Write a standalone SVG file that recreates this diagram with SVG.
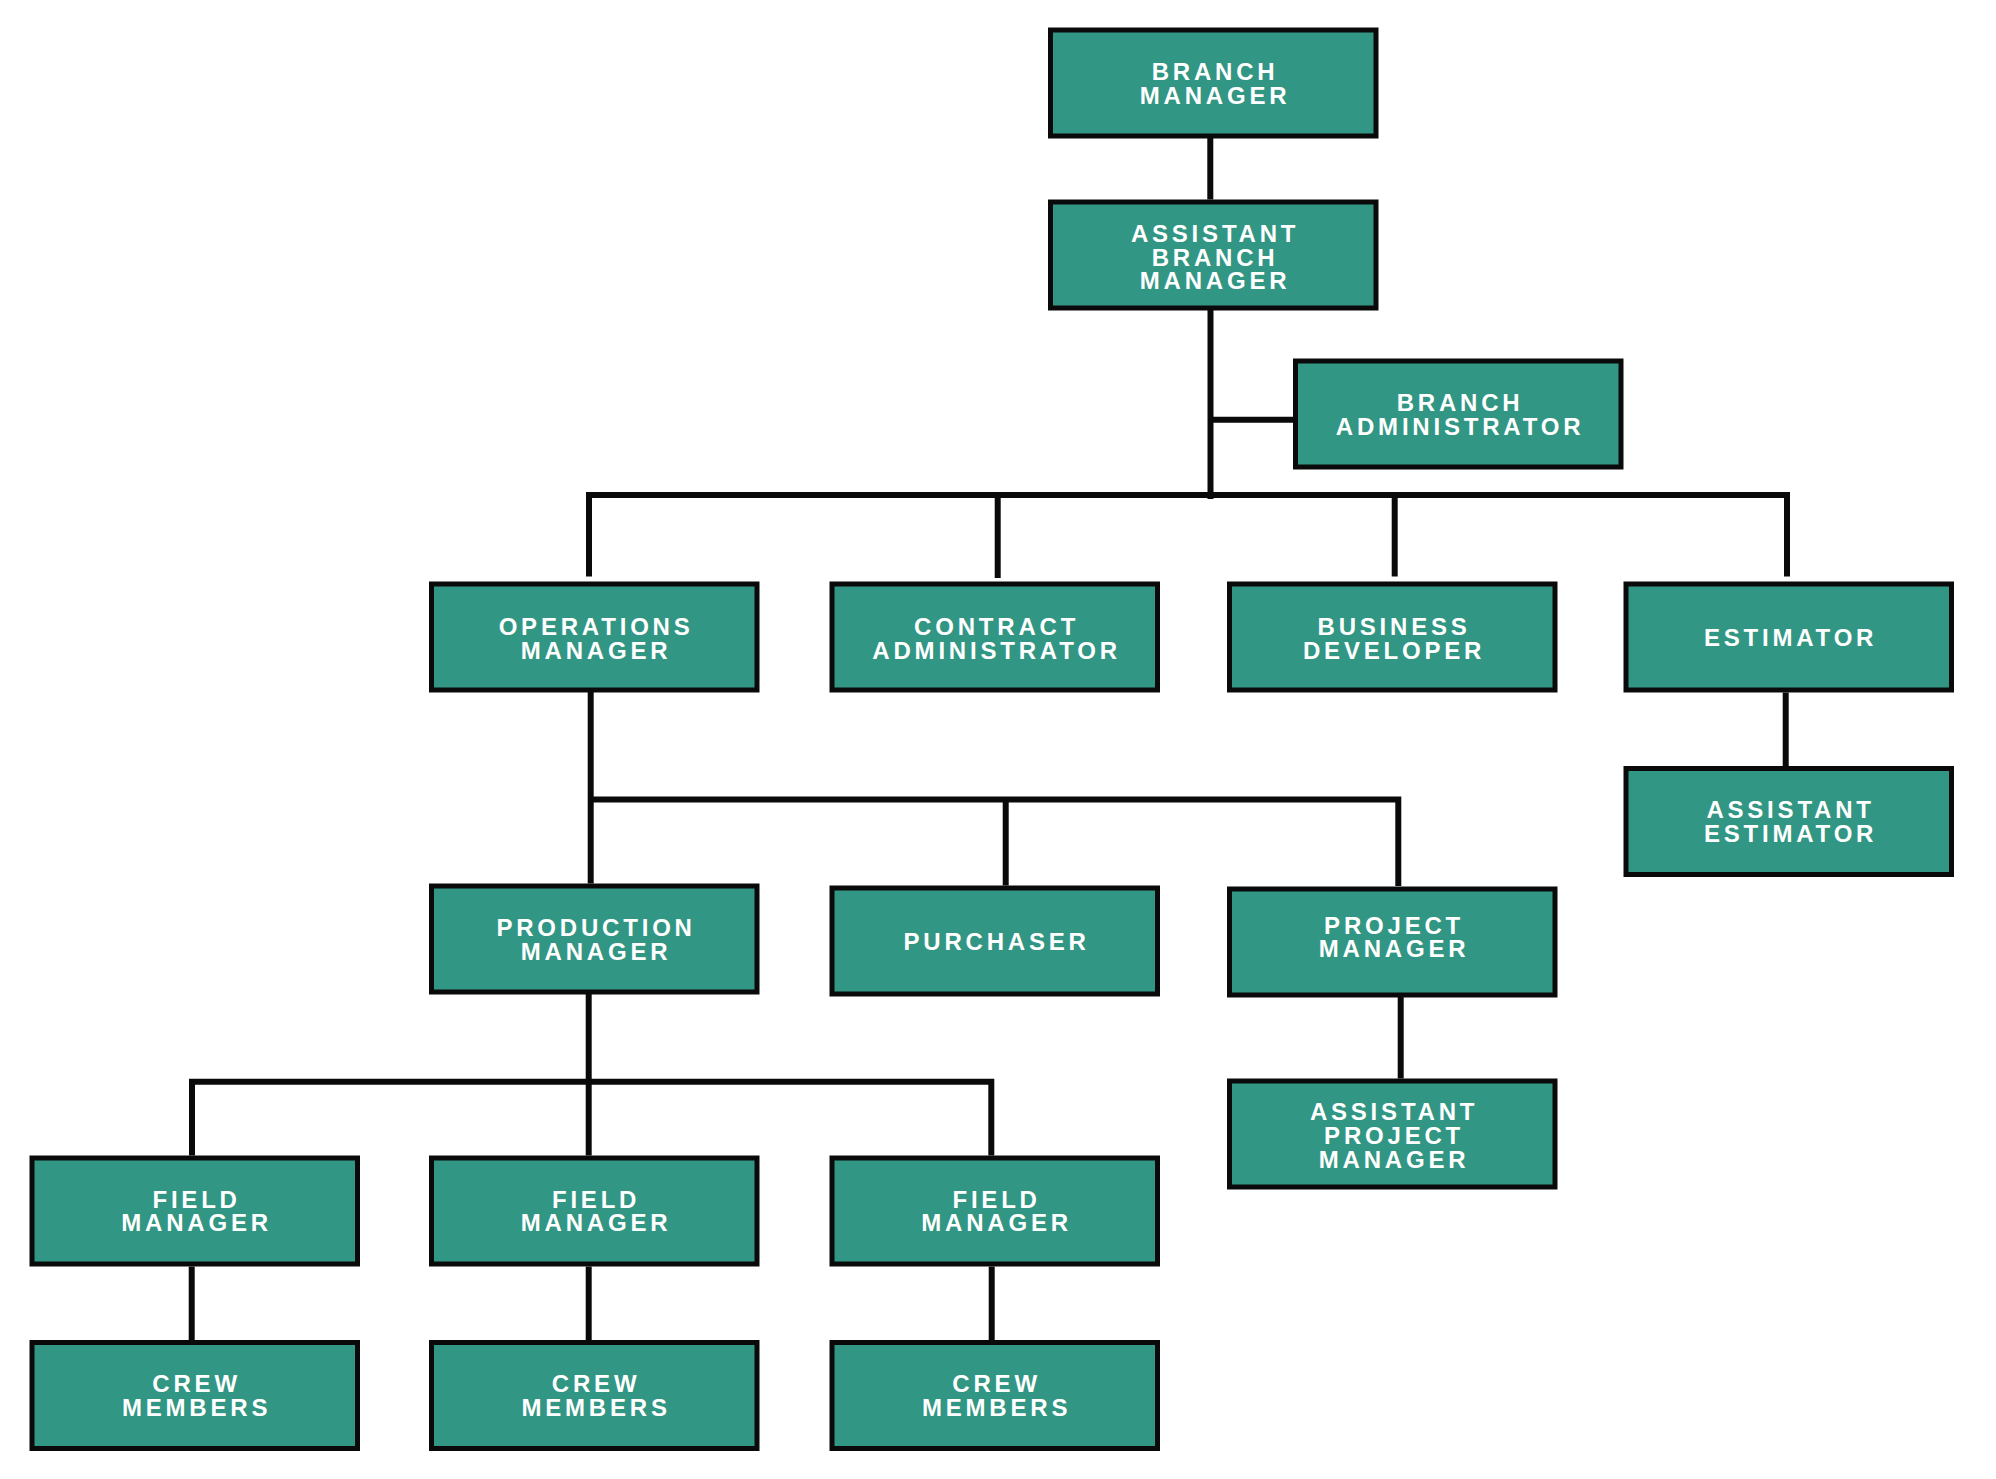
<svg xmlns="http://www.w3.org/2000/svg" width="1996" height="1479" viewBox="0 0 1996 1479">
<style>
.box rect{fill:#319683;stroke:#0a0a0a;stroke-width:5}
.box text{fill:#ffffff;font-family:"Liberation Sans",Arial,sans-serif;font-weight:bold;font-size:24px;letter-spacing:3.8px;text-anchor:middle}
#connectors path{fill:none;stroke:#0a0a0a;stroke-width:6;stroke-linejoin:miter;stroke-linecap:butt}
</style>
<rect width="1996" height="1479" fill="#ffffff"/>
<g id="connectors">
<path d="M1210.3 138 V199.5"/>
<path d="M1210.5 310 V499"/>
<path d="M1210 419.7 H1293"/>
<path d="M589 576.5 V495 H1787 V576.5"/>
<path d="M997.7 495 V578"/>
<path d="M1394.7 495 V576.5"/>
<path d="M590.7 692 V883.5"/>
<path d="M590.7 799.5 H1398.3 V886"/>
<path d="M1005.7 799.5 V885.5"/>
<path d="M1400.7 997 V1078.5"/>
<path d="M1785.7 692.5 V766"/>
<path d="M588.7 994 V1155.5"/>
<path d="M192 1155.5 V1081.7 H991.3 V1155.5"/>
<path d="M191.7 1266.5 V1340"/>
<path d="M588.7 1266.5 V1340"/>
<path d="M991.7 1266.5 V1340"/>
</g>
<g id="branch-manager" class="box">
<rect x="1050.5" y="30" width="325.5" height="106"/>
<text x="1215.1" y="80.3">BRANCH</text>
<text x="1215.1" y="104.3">MANAGER</text>
</g>
<g id="assistant-branch-manager" class="box">
<rect x="1050.5" y="202" width="325.5" height="106"/>
<text x="1215.1" y="241.5">ASSISTANT</text>
<text x="1215.1" y="265.5">BRANCH</text>
<text x="1215.1" y="289">MANAGER</text>
</g>
<g id="branch-administrator" class="box">
<rect x="1295.5" y="361" width="325.5" height="106"/>
<text x="1460.1" y="410.8">BRANCH</text>
<text x="1460.1" y="434.8">ADMINISTRATOR</text>
</g>
<g id="operations-manager" class="box">
<rect x="431.5" y="584" width="325.5" height="106"/>
<text x="596.1" y="634.5">OPERATIONS</text>
<text x="596.1" y="658.5">MANAGER</text>
</g>
<g id="contract-administrator" class="box">
<rect x="832" y="584" width="325.5" height="106"/>
<text x="996.6" y="634.5">CONTRACT</text>
<text x="996.6" y="658.5">ADMINISTRATOR</text>
</g>
<g id="business-developer" class="box">
<rect x="1229.5" y="584" width="325.5" height="106"/>
<text x="1394.1" y="634.5">BUSINESS</text>
<text x="1394.1" y="658.5">DEVELOPER</text>
</g>
<g id="estimator" class="box">
<rect x="1626" y="584" width="325.5" height="106"/>
<text x="1790.6" y="645.8">ESTIMATOR</text>
</g>
<g id="assistant-estimator" class="box">
<rect x="1626" y="768.5" width="325.5" height="106"/>
<text x="1790.6" y="818.3">ASSISTANT</text>
<text x="1790.6" y="842.3">ESTIMATOR</text>
</g>
<g id="production-manager" class="box">
<rect x="431.5" y="886" width="325.5" height="106"/>
<text x="596.1" y="935.8">PRODUCTION</text>
<text x="596.1" y="959.5">MANAGER</text>
</g>
<g id="purchaser" class="box">
<rect x="832" y="888" width="325.5" height="106"/>
<text x="996.6" y="949.5">PURCHASER</text>
</g>
<g id="project-manager" class="box">
<rect x="1229.5" y="889" width="325.5" height="106"/>
<text x="1394.1" y="933.5">PROJECT</text>
<text x="1394.1" y="957">MANAGER</text>
</g>
<g id="assistant-project-manager" class="box">
<rect x="1229.5" y="1081" width="325.5" height="106"/>
<text x="1394.1" y="1119.5">ASSISTANT</text>
<text x="1394.1" y="1143.5">PROJECT</text>
<text x="1394.1" y="1167.5">MANAGER</text>
</g>
<g id="field-manager-1" class="box">
<rect x="32" y="1158" width="325.5" height="106"/>
<text x="196.6" y="1207.5">FIELD</text>
<text x="196.6" y="1231">MANAGER</text>
</g>
<g id="field-manager-2" class="box">
<rect x="431.5" y="1158" width="325.5" height="106"/>
<text x="596.1" y="1207.5">FIELD</text>
<text x="596.1" y="1231">MANAGER</text>
</g>
<g id="field-manager-3" class="box">
<rect x="832" y="1158" width="325.5" height="106"/>
<text x="996.6" y="1207.5">FIELD</text>
<text x="996.6" y="1231">MANAGER</text>
</g>
<g id="crew-members-1" class="box">
<rect x="32" y="1342.5" width="325.5" height="106"/>
<text x="196.6" y="1392.3">CREW</text>
<text x="196.6" y="1416">MEMBERS</text>
</g>
<g id="crew-members-2" class="box">
<rect x="431.5" y="1342.5" width="325.5" height="106"/>
<text x="596.1" y="1392.3">CREW</text>
<text x="596.1" y="1416">MEMBERS</text>
</g>
<g id="crew-members-3" class="box">
<rect x="832" y="1342.5" width="325.5" height="106"/>
<text x="996.6" y="1392.3">CREW</text>
<text x="996.6" y="1416">MEMBERS</text>
</g>
</svg>
